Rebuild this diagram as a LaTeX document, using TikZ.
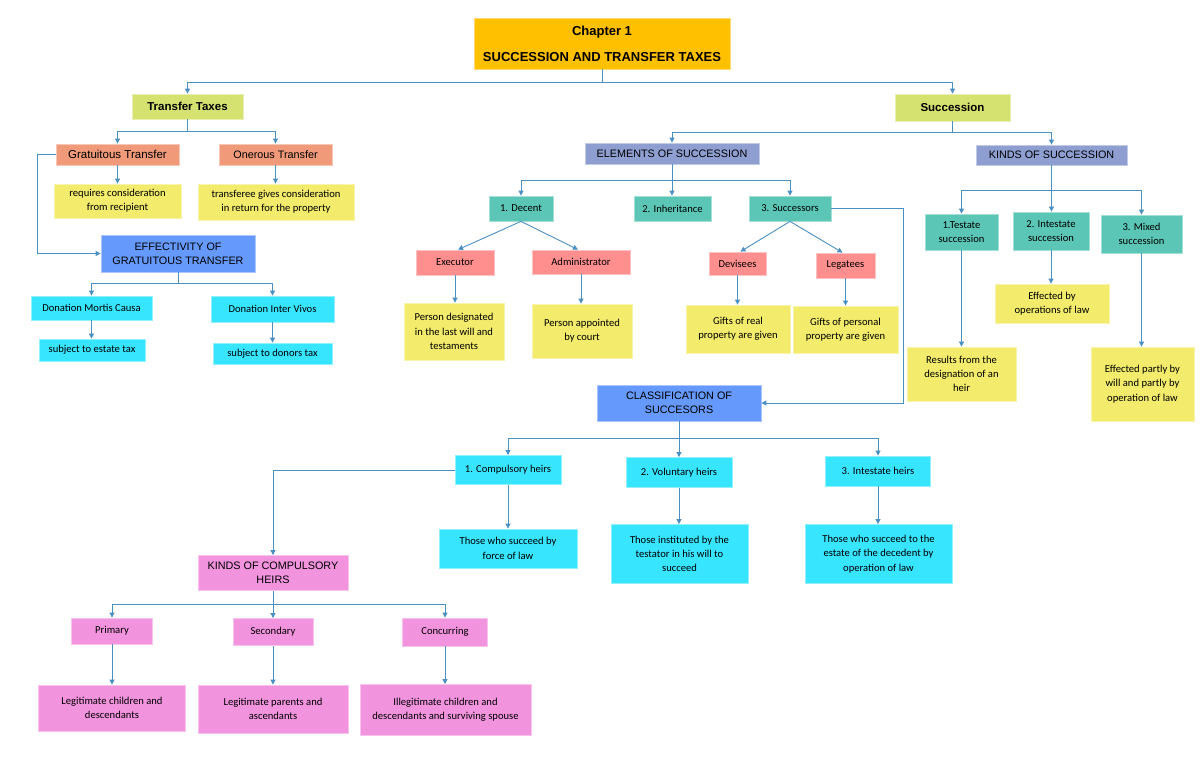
\documentclass[tikz,border=0pt]{standalone}
\usepackage{fontspec}
\newfontfamily\arialfont{Liberation Sans}
\newfontfamily\calfont{Carlito}
\usetikzlibrary{arrows.meta}
\definecolor{linkblue}{RGB}{74,144,194}
\definecolor{gold}{RGB}{255,192,0}
\definecolor{lime}{RGB}{214,226,112}
\definecolor{salmon}{RGB}{240,154,122}
\definecolor{notey}{RGB}{242,235,108}
\definecolor{cornblue}{RGB}{102,153,252}
\definecolor{aqua}{RGB}{56,229,255}
\definecolor{slate}{RGB}{142,158,208}
\definecolor{teal}{RGB}{92,198,182}
\definecolor{rosy}{RGB}{255,143,143}
\definecolor{orchid}{RGB}{242,147,222}
\begin{document}
\begin{tikzpicture}[x=1pt,y=-1pt,
    tbox/.style={fill=#1,draw=#1!55,line width=0.8pt,inner sep=0pt,align=center},
    capsbox/.style={tbox=#1,font=\arialfont\fontsize{10.8}{13.8}\selectfont},
    headbox/.style={tbox=#1,font=\arialfont\bfseries\fontsize{11.5}{13}\selectfont},
    leafbox/.style={tbox=#1,font=\calfont\fontsize{10.6}{14.3}\selectfont},
    link/.style={draw=linkblue,line width=0.9pt,-{Triangle[length=5pt,width=5pt]}},
    sz/.style 2 args={minimum width=#1,minimum height=#2}]
  \useasboundingbox[fill=white] (0,0) rectangle (1200,776);
  \node[tbox=gold,sz={256}{51},font=\arialfont\bfseries\fontsize{13}{26}\selectfont] (title) at (602,43.5) {Chapter 1\\SUCCESSION AND TRANSFER TAXES};
  \node[headbox=lime,sz={111}{25}] (tt) at (187.5,106.5) {Transfer Taxes};
  \node[headbox=lime,sz={115}{27}] (succ) at (952.5,107.5) {Succession};
  \node[capsbox=salmon,sz={123}{21},font=\arialfont\fontsize{11.5}{13}\selectfont] (grat) at (117.5,154.5) {Gratuitous Transfer};
  \node[capsbox=salmon,sz={113}{21}] (oner) at (275.5,154.5) {Onerous Transfer};
  \node[leafbox=notey,sz={127}{34}] (gratnote) at (117.5,201) {requires consideration\\from recipient};
  \node[leafbox=notey,sz={156}{36}] (onernote) at (276,202) {transferee gives consideration\\in return for the property};
  \node[capsbox=cornblue,sz={154}{37}] (eff) at (178,253.5) {EFFECTIVITY OF\\GRATUITOUS TRANSFER};
  \node[leafbox=aqua,sz={121}{24}] (dmc) at (91.5,308) {Donation Mortis Causa};
  \node[leafbox=aqua,sz={123}{26}] (div) at (272.5,309) {Donation Inter Vivos};
  \node[leafbox=aqua,sz={106}{22}] (dmcnote) at (92,350) {subject to estate tax};
  \node[leafbox=aqua,sz={119}{21}] (divnote) at (272.5,353.5) {subject to donors tax};
  \node[capsbox=slate,sz={174}{21}] (elem) at (672,153.5) {ELEMENTS OF SUCCESSION};
  \node[capsbox=slate,sz={151}{20}] (kinds) at (1051.5,155) {KINDS OF SUCCESSION};
  \node[leafbox=teal,sz={64}{25}] (decent) at (521,208.5) {1. Decent};
  \node[leafbox=teal,sz={77}{25}] (inher) at (672.5,208.5) {2. Inheritance};
  \node[leafbox=teal,sz={82}{25}] (succr) at (790,208.5) {3. Successors};
  \node[leafbox=rosy,sz={78}{25}] (exec) at (455,262.5) {Executor};
  \node[leafbox=rosy,sz={98}{24}] (admin) at (581,262) {Administrator};
  \node[leafbox=notey,sz={100}{57}] (execnote) at (454,331.5) {Person designated\\in the last will and\\testaments};
  \node[leafbox=notey,sz={100}{54}] (adminnote) at (582,331) {Person appointed\\by court};
  \node[leafbox=rosy,sz={57}{23}] (devis) at (737.5,263.5) {Devisees};
  \node[leafbox=rosy,sz={59}{25}] (legat) at (845.5,265.5) {Legatees};
  \node[leafbox=notey,sz={104}{48}] (devisnote) at (738,329) {Gifts of real\\property are given};
  \node[leafbox=notey,sz={105}{47}] (legatnote) at (845.5,329.5) {Gifts of personal\\property are given};
  \node[leafbox=teal,sz={73}{36}] (testate) at (961.5,232) {1.Testate\\succession};
  \node[leafbox=teal,sz={76}{38}] (intestate) at (1051,231) {2. Intestate\\succession};
  \node[leafbox=teal,sz={81}{38}] (mixed) at (1141.5,234) {3. Mixed\\succession};
  \node[leafbox=notey,sz={114}{39}] (intnote) at (1052,303.5) {Effected by\\operations of law};
  \node[leafbox=notey,sz={109}{54}] (testnote) at (961.5,374) {Results from the\\designation of an\\heir};
  \node[leafbox=notey,sz={103}{74}] (mixnote) at (1142.5,384) {Effected partly by\\will and partly by\\operation of law};
  \node[capsbox=cornblue,sz={164}{36}] (classif) at (679,403) {CLASSIFICATION OF\\SUCCESORS};
  \node[leafbox=aqua,sz={106}{29}] (comp) at (508,470) {1. Compulsory heirs};
  \node[leafbox=aqua,sz={106}{30}] (vol) at (679,472.5) {2. Voluntary heirs};
  \node[leafbox=aqua,sz={105}{30}] (intheir) at (878,471) {3. Intestate heirs};
  \node[leafbox=aqua,sz={138}{39}] (compnote) at (508,548.5) {Those who succeed by\\force of law};
  \node[leafbox=aqua,sz={137}{59}] (volnote) at (679.5,554) {Those instituted by the\\testator in his will to\\succeed};
  \node[leafbox=aqua,sz={147}{59}] (intheirnote) at (878.5,554) {Those who succeed to the\\estate of the decedent by\\operation of law};
  \node[capsbox=orchid,sz={150}{35}] (kch) at (273,573) {KINDS OF COMPULSORY\\HEIRS};
  \node[leafbox=orchid,sz={81}{26}] (prim) at (112,631) {Primary};
  \node[leafbox=orchid,sz={80}{27}] (sec) at (273,632) {Secondary};
  \node[leafbox=orchid,sz={85}{28}] (conc) at (445,632) {Concurring};
  \node[leafbox=orchid,sz={147}{46}] (primnote) at (112,708) {Legitimate children and\\descendants};
  \node[leafbox=orchid,sz={150}{48}] (secnote) at (273,709) {Legitimate parents and\\ascendants};
  \node[leafbox=orchid,sz={171}{51}] (concnote) at (445.5,710) {Illegitimate children and\\descendants and surviving spouse};
  \draw[link] (title.south) -- ++(0,13) -| (tt.north);
  \draw[link] (title.south) -- ++(0,13) -| (succ.north);
  \draw[link] (tt.south) -- ++(0,12) -| (grat.north);
  \draw[link] (tt.south) -- ++(0,12) -| (oner.north);
  \draw[link] (grat.south) -- (grat.south |- gratnote.north);
  \draw[link] (oner.south) -- (oner.south |- onernote.north);
  \draw[link] (grat.west) -- ++(-18,0) |- (eff.west);
  \draw[link] (eff.south) -- ++(0,11) -| (dmc.north);
  \draw[link] (eff.south) -- ++(0,11) -| (div.north);
  \draw[link] (dmc.south) -- (dmc.south |- dmcnote.north);
  \draw[link] (div.south) -- (div.south |- divnote.north);
  \draw[link] (succ.south) -- ++(0,11) -| (elem.north);
  \draw[link] (succ.south) -- ++(0,11) -| (kinds.north);
  \draw[link] (elem.south) -- ++(0,16) -| (decent.north);
  \draw[link] (elem.south) -- (elem.south |- inher.north);
  \draw[link] (elem.south) -- ++(0,16) -| (succr.north);
  \draw[link] (decent.south) -- ([xshift=3pt]exec.north);
  \draw[link] (decent.south) -- ([xshift=-3pt]admin.north);
  \draw[link] (exec.south) -- (exec.south |- execnote.north);
  \draw[link] (admin.south) -- (admin.south |- adminnote.north);
  \draw[link] (succr.south) -- ([xshift=3pt]devis.north);
  \draw[link] (succr.south) -- ([xshift=-3pt]legat.north);
  \draw[link] (devis.south) -- (devis.south |- devisnote.north);
  \draw[link] (legat.south) -- (legat.south |- legatnote.north);
  \draw[link] (succr.east) -- ++(72,0) |- (classif.east);
  \draw[link] (kinds.south) -- ++(0,25) -| (testate.north);
  \draw[link] (kinds.south) -- (kinds.south |- intestate.north);
  \draw[link] (kinds.south) -- ++(0,25) -| (mixed.north);
  \draw[link] (testate.south) -- (testate.south |- testnote.north);
  \draw[link] (intestate.south) -- (intestate.south |- intnote.north);
  \draw[link] (mixed.south) -- (mixed.south |- mixnote.north);
  \draw[link] (classif.south) -- ++(0,17) -| (comp.north);
  \draw[link] (classif.south) -- (classif.south |- vol.north);
  \draw[link] (classif.south) -- ++(0,17) -| (intheir.north);
  \draw[link] (comp.south) -- (comp.south |- compnote.north);
  \draw[link] (vol.south) -- (vol.south |- volnote.north);
  \draw[link] (intheir.south) -- (intheir.south |- intheirnote.north);
  \draw[link] (comp.west) -| (kch.north);
  \draw[link] (kch.south) -- ++(0,14) -| (prim.north);
  \draw[link] (kch.south) -- (kch.south |- sec.north);
  \draw[link] (kch.south) -- ++(0,14) -| (conc.north);
  \draw[link] (prim.south) -- (prim.south |- primnote.north);
  \draw[link] (sec.south) -- (sec.south |- secnote.north);
  \draw[link] (conc.south) -- (conc.south |- concnote.north);
\end{tikzpicture}
\end{document}
